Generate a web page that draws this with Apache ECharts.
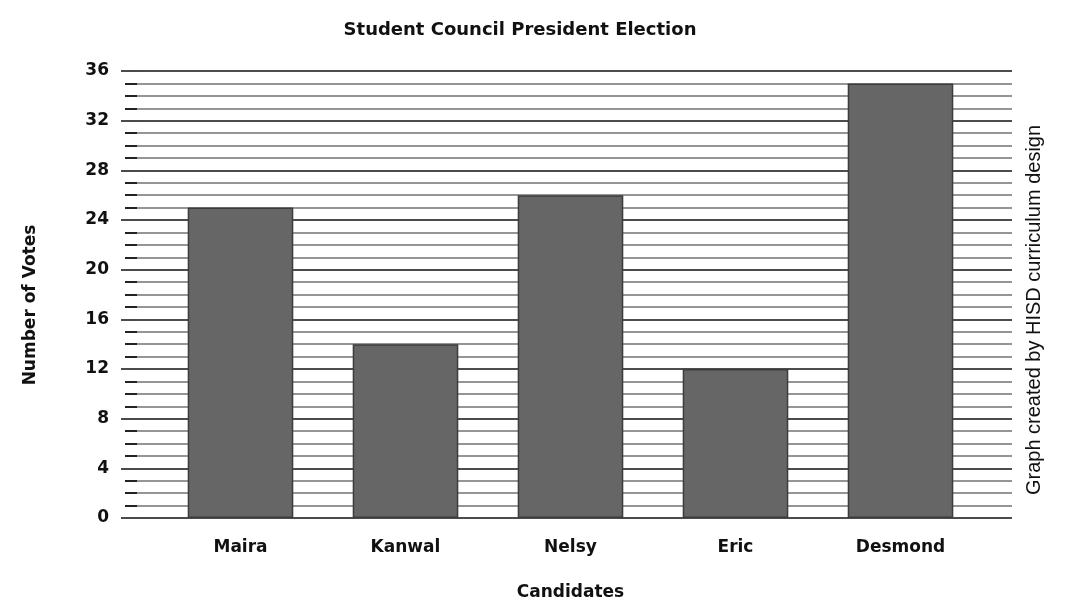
<!DOCTYPE html>
<html>
<head>
<meta charset="utf-8">
<script src="https://cdn.jsdelivr.net/npm/echarts@6/dist/echarts.min.js"></script>
<style>html,body{margin:0;padding:0;background:#fff}#c{width:1072px;height:612px}</style>
</head>
<body>
<div id="c"></div>
<script>
var categories = ['Maira', 'Kanwal', 'Nelsy', 'Eric', 'Desmond'];
var votes = [25, 14, 26, 12, 35];
var yMin = 0, yMax = 36, yStep = 4;
var titleText = 'Student Council President Election';
var xName = 'Candidates';
var yName = 'Number of Votes';
var credit = 'Graph created by HISD curriculum design';

var boldFont = '"DejaVu Sans", Arial, sans-serif';
var font = '"Liberation Sans", Arial, sans-serif';
var chart = echarts.init(document.getElementById('c'), null, {renderer: 'canvas'});
chart.setOption({
  animation: false,
  backgroundColor: '#fff',
  title: {
    text: titleText, left: 515, top: 16, textAlign: 'center',
    textStyle: {fontFamily: boldFont, fontWeight: 'bold', fontSize: 18, color: '#111'}
  },
  grid: [
    {left: 137, right: 60, top: 71, bottom: 94},
    {left: 158, right: 89, top: 71, bottom: 94}
  ],
  xAxis: [
    {gridIndex: 0, type: 'value', show: false, min: 0, max: 1},
    {
      gridIndex: 1, type: 'category', data: categories,
      axisLine: {show: false}, axisTick: {show: false},
      axisLabel: {margin: 21, fontFamily: boldFont, fontWeight: 'bold', fontSize: 17, color: '#111'},
      name: xName, nameLocation: 'middle', nameGap: 66,
      nameTextStyle: {fontFamily: boldFont, fontWeight: 'bold', fontSize: 17, color: '#111'}
    }
  ],
  yAxis: [
    {
      gridIndex: 0, type: 'value', min: yMin, max: yMax, interval: yStep,
      axisLine: {show: false},
      axisTick: {show: true, length: 16, lineStyle: {color: '#111', width: 1.5}},
      minorTick: {show: true, splitNumber: 4, length: 12, lineStyle: {color: '#222', width: 2}},
      axisLabel: {margin: 28, fontFamily: boldFont, fontWeight: 'bold', fontSize: 17, color: '#111'},
      splitLine: {show: true, lineStyle: {color: '#111', width: 1.5}},
      minorSplitLine: {show: true, lineStyle: {color: '#737373', width: 1.5}}
    },
    {gridIndex: 1, type: 'value', min: yMin, max: yMax, interval: yStep, show: false, splitLine: {show: false}}
  ],
  graphic: [
    {
      type: 'text', x: 31, y: 305, rotation: Math.PI / 2,
      style: {text: yName, fontFamily: boldFont, fontWeight: 'bold', fontSize: 17, fill: '#111', align: 'center', verticalAlign: 'middle'}
    },
    {
      type: 'text', x: 1034, y: 310, rotation: Math.PI / 2,
      style: {text: credit, fontFamily: font, fontSize: 20, fill: '#111', align: 'center', verticalAlign: 'middle'}
    }
  ],
  series: [{
    type: 'bar', xAxisIndex: 1, yAxisIndex: 1, data: votes,
    barCategoryGap: '36%',
    itemStyle: {color: '#666666', borderColor: '#3c3c3c', borderWidth: 1.5}
  }]
});
</script>
</body>
</html>
